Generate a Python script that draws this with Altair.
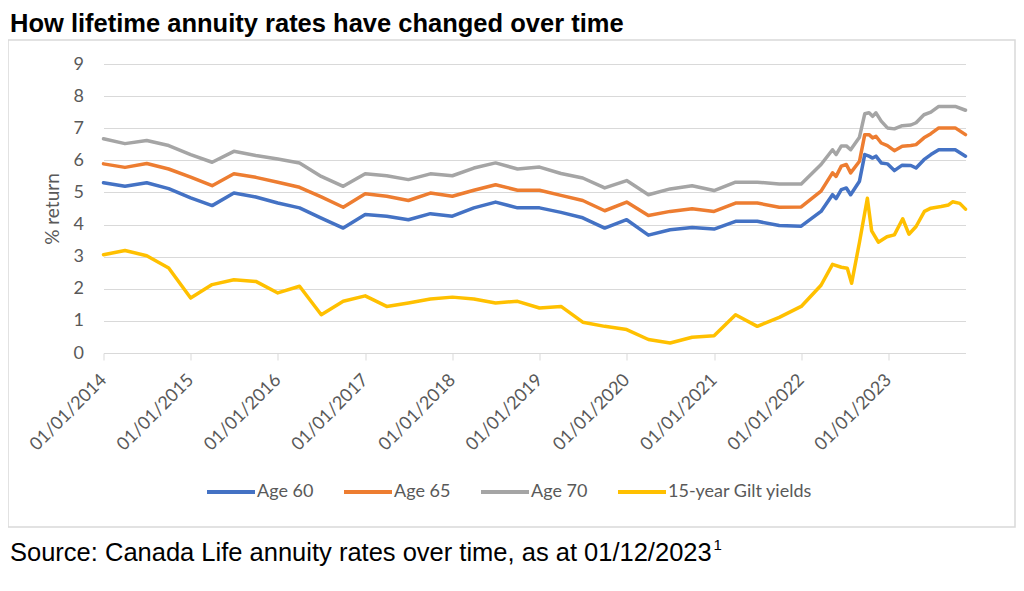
import altair as alt
import pandas as pd

# Series names and Excel-style colours
series_names = ["Age 60", "Age 65", "Age 70", "15-year Gilt yields"]
series_colors = ["#4472C4", "#ED7D31", "#A5A5A5", "#FFC000"]

# Quarterly readings, Jan 2014 .. Jan 2022 (33 points)
quarter_dates = pd.date_range("2014-01-01", "2022-01-01", freq="QS").strftime("%Y-%m-%d").tolist()

age60_q = [5.30, 5.19, 5.30, 5.12, 4.83, 4.59, 4.98, 4.86, 4.67, 4.52, 4.20, 3.89,
           4.31, 4.26, 4.15, 4.34, 4.26, 4.52, 4.70, 4.52, 4.52, 4.38, 4.21, 3.89,
           4.15, 3.67, 3.84, 3.91, 3.86, 4.10, 4.10, 3.97, 3.95]
age65_q = [5.89, 5.78, 5.90, 5.73, 5.48, 5.21, 5.58, 5.47, 5.32, 5.16, 4.86, 4.54,
           4.96, 4.88, 4.75, 4.98, 4.88, 5.07, 5.24, 5.07, 5.07, 4.91, 4.75, 4.43,
           4.70, 4.28, 4.41, 4.49, 4.41, 4.67, 4.67, 4.54, 4.55]
age70_q = [6.67, 6.52, 6.62, 6.46, 6.18, 5.94, 6.28, 6.15, 6.04, 5.92, 5.50, 5.19,
           5.58, 5.52, 5.40, 5.58, 5.52, 5.76, 5.92, 5.73, 5.79, 5.59, 5.45, 5.14,
           5.37, 4.93, 5.11, 5.21, 5.06, 5.32, 5.32, 5.26, 5.26]
gilt_q = [3.06, 3.19, 3.03, 2.65, 1.71, 2.13, 2.28, 2.23, 1.87, 2.08, 1.19, 1.61,
          1.78, 1.45, 1.56, 1.68, 1.74, 1.68, 1.56, 1.61, 1.40, 1.45, 0.96, 0.83,
          0.73, 0.42, 0.31, 0.49, 0.54, 1.19, 0.83, 1.11, 1.45]

# Finer readings after Jan 2022
annuity_dates_late = ["2022-03-25", "2022-05-12", "2022-05-27", "2022-06-18", "2022-07-09",
                      "2022-07-27", "2022-09-02", "2022-09-24", "2022-10-12", "2022-10-27",
                      "2022-11-10", "2022-12-02", "2022-12-28", "2023-01-26", "2023-02-28",
                      "2023-04-05", "2023-04-27", "2023-05-30", "2023-06-28", "2023-07-31",
                      "2023-10-08", "2023-11-20"]
age60_late = [4.41, 4.93, 4.81, 5.09, 5.14, 4.93, 5.35, 6.18, 6.13, 6.07, 6.13,
              5.92, 5.89, 5.68, 5.85, 5.84, 5.76, 6.02, 6.18, 6.33, 6.33, 6.13]
age65_late = [5.04, 5.61, 5.50, 5.82, 5.87, 5.61, 5.97, 6.80, 6.80, 6.70, 6.75,
              6.54, 6.46, 6.30, 6.44, 6.46, 6.49, 6.70, 6.83, 7.01, 7.01, 6.80]
age70_late = [5.87, 6.33, 6.18, 6.45, 6.45, 6.33, 6.72, 7.45, 7.48, 7.37, 7.48,
              7.22, 7.01, 6.98, 7.08, 7.10, 7.17, 7.42, 7.50, 7.68, 7.68, 7.56]

gilt_dates_late = ["2022-03-25", "2022-05-12", "2022-06-18", "2022-07-13", "2022-07-31",
                   "2022-09-02", "2022-10-05", "2022-10-23", "2022-11-20", "2022-12-26",
                   "2023-01-26", "2023-03-02", "2023-03-28", "2023-04-27", "2023-06-01",
                   "2023-06-28", "2023-08-10", "2023-09-10", "2023-09-27", "2023-10-27",
                   "2023-11-20"]
gilt_late = [2.11, 2.76, 2.67, 2.64, 2.17, 3.45, 4.82, 3.80, 3.45, 3.62, 3.68,
             4.18, 3.70, 3.94, 4.41, 4.51, 4.56, 4.61, 4.71, 4.66, 4.48]

chart_title = "How lifetime annuity rates have changed over time"
source_note = "Source: Canada Life annuity rates over time, as at 01/12/2023"
source_mark = "1"

annuity_dates = quarter_dates + annuity_dates_late
gilt_dates = quarter_dates + gilt_dates_late
frames = []
for name, dates, vals in [
    ("Age 60", annuity_dates, age60_q + age60_late),
    ("Age 65", annuity_dates, age65_q + age65_late),
    ("Age 70", annuity_dates, age70_q + age70_late),
    ("15-year Gilt yields", gilt_dates, gilt_q + gilt_late),
]:
    frames.append(pd.DataFrame({"date": dates, "value": vals, "series": name}))
df = pd.concat(frames, ignore_index=True)

GREY_TEXT = "#595959"
GRID = "#D9D9D9"

year_ticks = [alt.DateTime(year=y, month=1, date=1, utc=True) for y in range(2014, 2024)]

lines = alt.Chart(df).mark_line(strokeWidth=3.5, strokeJoin="round", strokeCap="round").encode(
    x=alt.X("date:T",
            scale=alt.Scale(type="utc",
                            domain=[alt.DateTime(year=2014, month=1, date=1, utc=True),
                                    alt.DateTime(year=2023, month=11, date=20, utc=True)]),
            axis=alt.Axis(values=year_ticks, format="%d/%m/%Y", title=None, grid=False,
                          labelAngle=-45, labelAlign="right", labelBaseline="middle",
                          labelPadding=17, tickSize=7, tickColor=GRID, domainColor=GRID,
                          labelFont="Lato", labelFontSize=18, labelColor=GREY_TEXT)),
    y=alt.Y("value:Q",
            scale=alt.Scale(domain=[0, 9], nice=False),
            axis=alt.Axis(values=list(range(10)), title="% return", domain=False, ticks=False,
                          gridColor=GRID, labelPadding=20, labelFont="Lato", labelFontSize=18,
                          labelColor=GREY_TEXT, titleFont="Lato", titleFontSize=19,
                          titleFontWeight="normal", titleColor=GREY_TEXT, titlePadding=11)),
    color=alt.Color("series:N",
                    scale=alt.Scale(domain=series_names, range=series_colors),
                    legend=alt.Legend(title=None, orient="none", legendX=101.5, legendY=402,
                                      direction="horizontal", symbolType="stroke",
                                      symbolSize=2304, symbolStrokeWidth=4, labelFont="Lato",
                                      labelFontSize=18, labelColor=GREY_TEXT, labelOffset=0,
                                      columnPadding=22, padding=0, labelLimit=300)),
)

# Outer chart border (Excel chart area)
frame = alt.Chart(pd.DataFrame({"k": [0]})).mark_rect(
    fillOpacity=0, stroke=GRID, strokeWidth=1.5
).encode(x=alt.value(-95.5), x2=alt.value(911.5), y=alt.value(-24), y2=alt.value(463))

title_text = alt.Chart(pd.DataFrame({"t": [chart_title]})).mark_text(
    align="left", baseline="alphabetic", font="Liberation Sans", fontSize=25.5,
    fontWeight="bold", color="#000000"
).encode(text="t:N", x=alt.value(-93.5), y=alt.value(-32))

source_text = alt.Chart(pd.DataFrame({"t": [source_note]})).mark_text(
    align="left", baseline="alphabetic", font="Liberation Sans", fontSize=25.5, color="#000000"
).encode(text="t:N", x=alt.value(-93.5), y=alt.value(497))

source_sup = alt.Chart(pd.DataFrame({"t": [source_mark]})).mark_text(
    align="left", baseline="alphabetic", font="Liberation Sans", fontSize=15, color="#000000"
).encode(text="t:N", x=alt.value(610), y=alt.value(486))

chart = alt.layer(frame, lines, title_text, source_text, source_sup).properties(
    width=862,
    height=289,
    autosize=alt.AutoSizeParams(type="none"),
    padding={"left": 95.5, "top": 56, "right": 50.5, "bottom": 220},
    background="white",
).configure_view(strokeWidth=0)

chart.save("out.html", embed_options={"renderer": "svg", "actions": False})
